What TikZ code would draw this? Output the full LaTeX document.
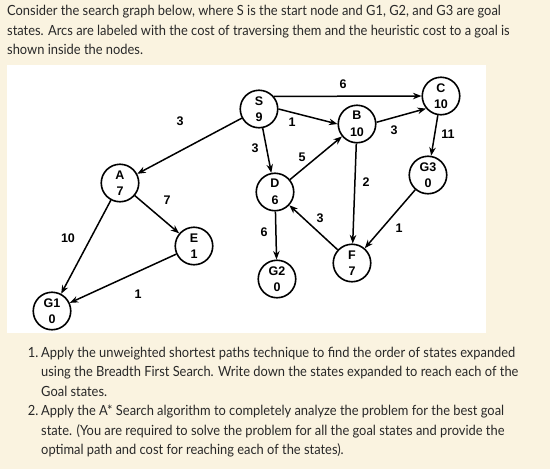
\documentclass[tikz,border=0pt]{standalone}
\usepackage{fontspec}
\setmainfont{Lato}[FakeStretch=0.92]
\newfontfamily\arialf{Liberation Sans}
\usetikzlibrary{arrows.meta}
\definecolor{bgcream}{RGB}{250,243,224}
\definecolor{txtgray}{RGB}{40,40,40}
\tikzset{
  st/.style={circle,draw=black,line width=1.6pt,fill=white,minimum size=37.5pt,inner sep=0pt,
    align=center,font=\arialf\bfseries\fontsize{12.5}{16.5}\selectfont},
  arr/.style={line width=1.5pt,-{Stealth[length=8.5pt,width=6.5pt]}},
  cost/.style={font=\arialf\bfseries\fontsize{12.5}{13}\selectfont,inner sep=0pt},
  para/.style={anchor=base west,inner sep=0pt,text=txtgray,font=\fontsize{14}{19}\selectfont},
}
\begin{document}
\begin{tikzpicture}[x=1pt,y=-1pt]
\useasboundingbox (0,0) rectangle (550,469);
\fill[bgcream] (0,0) rectangle (550,469);
\fill[white] (7,64.5) rectangle (486,332.5);
% text
\node[para] (t1) at (7,15.5) {Consider the search graph below, where S is the start node and G1, G2, and G3 are goal};
\node[para] (t2) at (7,35) {states. Arcs are labeled with the cost of traversing them and the heuristic cost to a goal is};
\node[para] (t3) at (7,54.5) {shown inside the nodes.};
\node[para,anchor=base east] (n1) at (38.5,357) {1.};
\node[para] (l1) at (41,357) {Apply the unweighted shortest paths technique to find the order of states expanded};
\node[para] (l2) at (41,376.5) {using the Breadth First Search. Write down the states expanded to reach each of the};
\node[para] (l3) at (41,396) {Goal states.};
\node[para,anchor=base east] (n2) at (38.5,415.5) {2.};
\node[para] (l4) at (41,415.5) {Apply the A* Search algorithm to completely analyze the problem for the best goal};
\node[para] (l5) at (41,435) {state. (You are required to solve the problem for all the goal states and provide the};
\node[para] (l6) at (41,454.5) {optimal path and cost for reaching each of the states).};
% nodes
\node[st] (S) at (259,109) {S\\9};
\node[st] (C) at (441,96) {C\\10};
\node[st] (B) at (357,124) {B\\10};
\node[st] (A) at (120,183) {A\\7};
\node[st] (D) at (275,192) {D\\6};
\node[st] (G3) at (428,175) {G3\\0};
\node[st] (E) at (194,246) {E\\1};
\node[st] (F) at (352,263) {F\\7};
\node[st] (G2) at (277,279) {G2\\0};
\node[st] (G1) at (52,311) {G1\\0};
% edges
\draw[arr] (S.40) -- (C.180);
\draw[arr] (S.east) -- (B.west);
\draw[arr] (S) -- (A);
\draw[arr] (S) -- (D);
\draw[arr] (D) -- (B);
\draw[arr] (B.5) -- (C.220);
\draw[arr] (C) -- (G3);
\draw[arr] (B) -- (F);
\draw[arr] (G3) -- (F);
\draw[arr] (F) -- (D);
\draw[arr] (D) -- (G2);
\draw[arr] (A) -- (E);
\draw[arr] (A) -- (G1);
\draw[arr] (E) -- (G1);
% costs
\node[cost] (c1) at (343,84) {6};
\node[cost] (c2) at (292,122) {1};
\node[cost] (c3) at (180,121) {3};
\node[cost] (c4) at (255,148) {3};
\node[cost] (c5) at (302,157) {5};
\node[cost] (c6) at (394,130) {3};
\node[cost] (c7) at (448,134) {11};
\node[cost] (c8) at (366,182) {2};
\node[cost] (c9) at (399,228) {1};
\node[cost] (c10) at (320,218) {3};
\node[cost] (c11) at (264,232) {6};
\node[cost] (c12) at (167,200) {7};
\node[cost] (c13) at (68,238) {10};
\node[cost] (c14) at (138,294) {1};
\end{tikzpicture}
\end{document}
